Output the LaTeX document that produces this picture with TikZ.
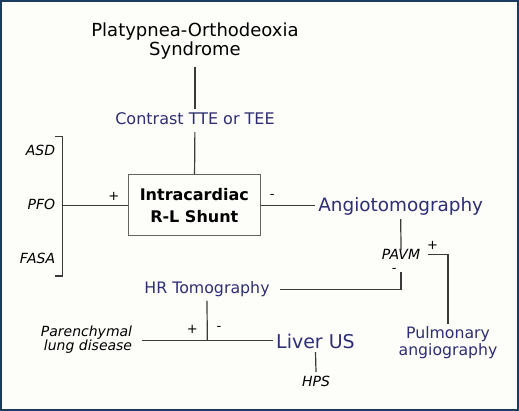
\documentclass[tikz,border=0pt]{standalone}
\usepackage{fontspec}
\setmainfont{DejaVu Sans}
\definecolor{testblue}{RGB}{46,46,118}
\definecolor{linegray}{RGB}{58,58,58}
\definecolor{shuntgray}{RGB}{100,100,100}
\definecolor{framenavy}{RGB}{28,60,94}
\definecolor{paper}{RGB}{253,253,249}
\begin{document}
\begin{tikzpicture}[x=1pt,y=-1pt,inner sep=3.3pt,
link/.style={draw=linegray,line width=1.2pt},
test/.style={anchor=base,text=testblue},
finding/.style={anchor=base,font=\fontsize{14}{14.5}\selectfont\itshape},
sign/.style={inner sep=0pt,font=\fontsize{13}{13}\selectfont}]

% page and frame
\fill[paper] (0,0) rectangle (519,411);
\draw[framenavy,line width=2pt] (1,1) rectangle (518,410);

\draw (195,41) node[align=center,font=\fontsize{18}{19.5}\selectfont] (title) {Platypnea-Orthodeoxia\\Syndrome};
\draw (195,124.3) node[test,font=\fontsize{16}{16}\selectfont] (cte) {Contrast TTE or TEE};
\draw (194.3,205.3) node[draw=shuntgray,line width=1.1pt,minimum width=132.5pt,minimum height=60.7pt,align=center,font=\fontsize{16}{21.5}\selectfont\bfseries] (shunt) {Intracardiac\\R-L Shunt};
\draw (400.7,211.7) node[test,font=\fontsize{18.4}{18.4}\selectfont] (angio) {Angiotomography};
\draw (401,260) node[finding] (pavm) {PAVM};
\draw (207,294) node[test,font=\fontsize{15.8}{15.8}\selectfont] (hrt) {HR Tomography};
\draw (448,343.1) node[text=testblue,align=center,font=\fontsize{15.7}{17}\selectfont] (pulm) {Pulmonary\\angiography};
\draw (315.5,348.3) node[test,font=\fontsize{19}{19}\selectfont] (liver) {Liver US};
\draw (316,386) node[finding] (hps) {HPS};
\draw (135.6,339.5) node[anchor=east,align=right,font=\fontsize{14}{14.3}\selectfont\itshape] (paren) {Parenchymal\\lung disease};

% shunt types
\draw (58.6,156) node[finding,anchor=base east] (asd) {ASD};
\draw (58.6,210) node[finding,anchor=base east] (pfo) {PFO};
\draw (58.6,263.3) node[finding,anchor=base east] (fasa) {FASA};
\coordinate (brtop) at (62.7,136.7);
\coordinate (brbot) at (62.7,276);
\coordinate (brk) at (62.7,205.3);
\coordinate (jn) at (207.3,340.7);

\draw[link] (brtop) ++(-7.4,0) -- (brtop) -- (brbot) -- ++(-7.4,0);
\draw[link,shorten <=4pt] (title) -- (cte);
\draw[link,shorten <=4pt] (cte) -- (shunt);
\draw[link] (shunt.west) node[sign,xshift=-13.7pt,yshift=8.6pt] {+} -- (brk);
\draw[link] (shunt.east) node[sign,xshift=11pt,yshift=8.6pt] {-} -- (shunt.east -| angio.west);
\draw[link,shorten >=-4pt] (angio.south) -- (pavm.north);
\draw[link,shorten <=4pt] (pavm.east) node[sign,xshift=9pt,yshift=9.2pt] {+} -| (pulm.north);
\draw[link,shorten <=9pt,shorten >=7pt] (pavm.south) node[sign,xshift=-6.7pt,yshift=-6.7pt] {-} |- (hrt.east);
\draw[link] (hrt.south) -- (jn);
\draw[link,shorten <=6pt] (paren.east |- jn) -- (jn -| liver.west);
\path (jn) node[sign,xshift=-15pt,yshift=11.7pt] {+} node[sign,xshift=11.7pt,yshift=12.4pt] {-};
\draw[link] (liver.south) -- (hps.north);

\end{tikzpicture}
\end{document}
